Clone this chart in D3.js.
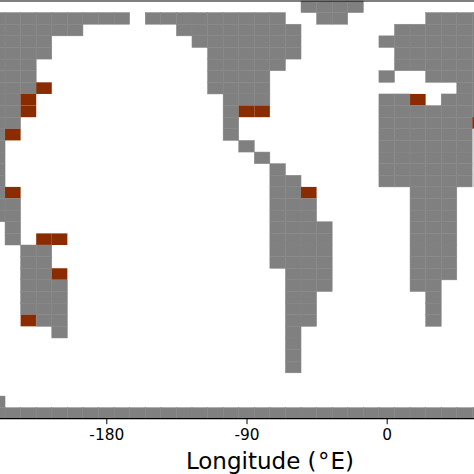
<!DOCTYPE html>
<html>
<head>
<meta charset="utf-8">
<script src="https://d3js.org/d3.v7.min.js"></script>
<style>
  html, body { margin: 0; padding: 0; background: #fff; }
  svg { display: block; }
</style>
</head>
<body>
<div id="d3-chart"></div>
<script>
// Grid centres
const longitudes = [-250, -240, -230, -220, -210, -200, -190, -180, -170, -160, -150, -140, -130, -120, -110, -100,
    -90, -80, -70, -60, -50, -40, -30, -20, -10, 0, 10, 20, 30, 40, 50, 60];
const latitudes = [85, 80, 75, 70, 65, 60, 55, 50, 45, 40, 35, 30, 25, 20, 15, 10, 5, 0, -5, -10, -15, -20, -25, -30,
    -35, -40, -45, -50, -55, -60, -65, -70, -75, -80, -85, -90];

// One string per latitude, one character per longitude
// # land, x flagged cell, p pale cell cut by the image edge
const cellRows = [
    "....................####........",
    "#########.#########..##.....####",
    "######......########......######",
    "####.........#######.....#######",
    "####..........######......######",
    "###...........#####.......######",
    "###...........####.......#..####",
    "###x..........####............##",
    "##x............###.......##x.###",
    "##x............#xx.......#######",
    "##.............#.........######x",
    "#x.............#.........######p",
    "#...............#........######p",
    "#................#.......######p",
    "#.................#......######p",
    "#.................##.....######p",
    "#x................##x......###..",
    "##................###......###..",
    "##................###......###..",
    ".#................####.....###..",
    ".#.xx.............####.....###..",
    "..##..............####.....###..",
    "..##..............####.....###..",
    "..##x..............###.....###..",
    "..###..............###.....##...",
    "..###..............##.......#...",
    "..###..............##.......#...",
    "..x##..............##.......#...",
    "....#..............#............",
    "...................#............",
    "...................#............",
    "...................#............",
    "................................",
    "................................",
    "#...............................",
    "################################"
];

const tickValues = [-180, -90, 0];
const cellColors = { "#": "#808080", "x": "#8b2b00", "p": "#d4d4d4" };

const width = 474,
    height = 474,
    axisY = 418.7;

const x = d3.scaleLinear().domain([-180, 0]).range([106.3, 386.7]);
const y = d3.scaleLinear().domain([85, -90]).range([6.8, 413.5]);

const svg = d3.select("#d3-chart")
    .append("svg")
    .attr("width", width)
    .attr("height", height)
    .style("font-family", "'DejaVu Sans'");

svg.append("clipPath")
    .attr("id", "plot-clip")
    .append("rect")
    .attr("width", width)
    .attr("height", axisY);

// Flatten the rows into cells
const cells = [];
cellRows.forEach(function (row, i) {
    longitudes.forEach(function (lon, j) {
        if (row[j] !== ".") cells.push({ lon: lon, lat: latitudes[i], kind: row[j] });
    });
});

svg.append("g")
    .attr("clip-path", "url(#plot-clip)")
    .selectAll("rect")
    .data(cells)
    .enter()
    .append("rect")
    .attr("x", d => x(d.lon - 5))
    .attr("y", d => y(d.lat + 2.5))
    .attr("width", d => x(d.lon + 5) - x(d.lon - 5))
    .attr("height", d => y(d.lat - 2.5) - y(d.lat + 2.5))
    .attr("fill", d => cellColors[d.kind])
    .attr("stroke", d => d.kind === "#" ? "#868686" : "none")
    .attr("stroke-width", 0.5);

// Top spine, half cut off by the crop
svg.append("rect")
    .attr("width", width)
    .attr("height", 2)
    .attr("fill", "#000")
    .attr("fill-opacity", 0.5);

// X axis
const xAxis = d3.axisBottom(x)
    .tickValues(tickValues)
    .tickSize(5.5)
    .tickPadding(4.5)
    .tickFormat(d => d);

const axisG = svg.append("g")
    .attr("transform", "translate(0," + axisY + ")")
    .call(xAxis);

axisG.select(".domain").remove();
axisG.append("line")
    .attr("x1", 0)
    .attr("x2", width)
    .attr("stroke", "#000")
    .attr("stroke-width", 1.2);
axisG.selectAll(".tick line").attr("stroke", "#000").attr("stroke-width", 1);
axisG.selectAll(".tick text")
    .attr("fill", "#000")
    .style("font-family", "'DejaVu Sans'")
    .style("font-size", "15.4px");

const xLabel = svg.append("text")
    .attr("x", 270)
    .attr("y", 469)
    .attr("text-anchor", "middle")
    .attr("fill", "#000")
    .style("font-size", "23px");
xLabel.append("tspan").text("Longitude (");
xLabel.append("tspan").attr("dx", 1.5).text("°");
xLabel.append("tspan").attr("dx", 1).text("E)");
</script>
</body>
</html>
